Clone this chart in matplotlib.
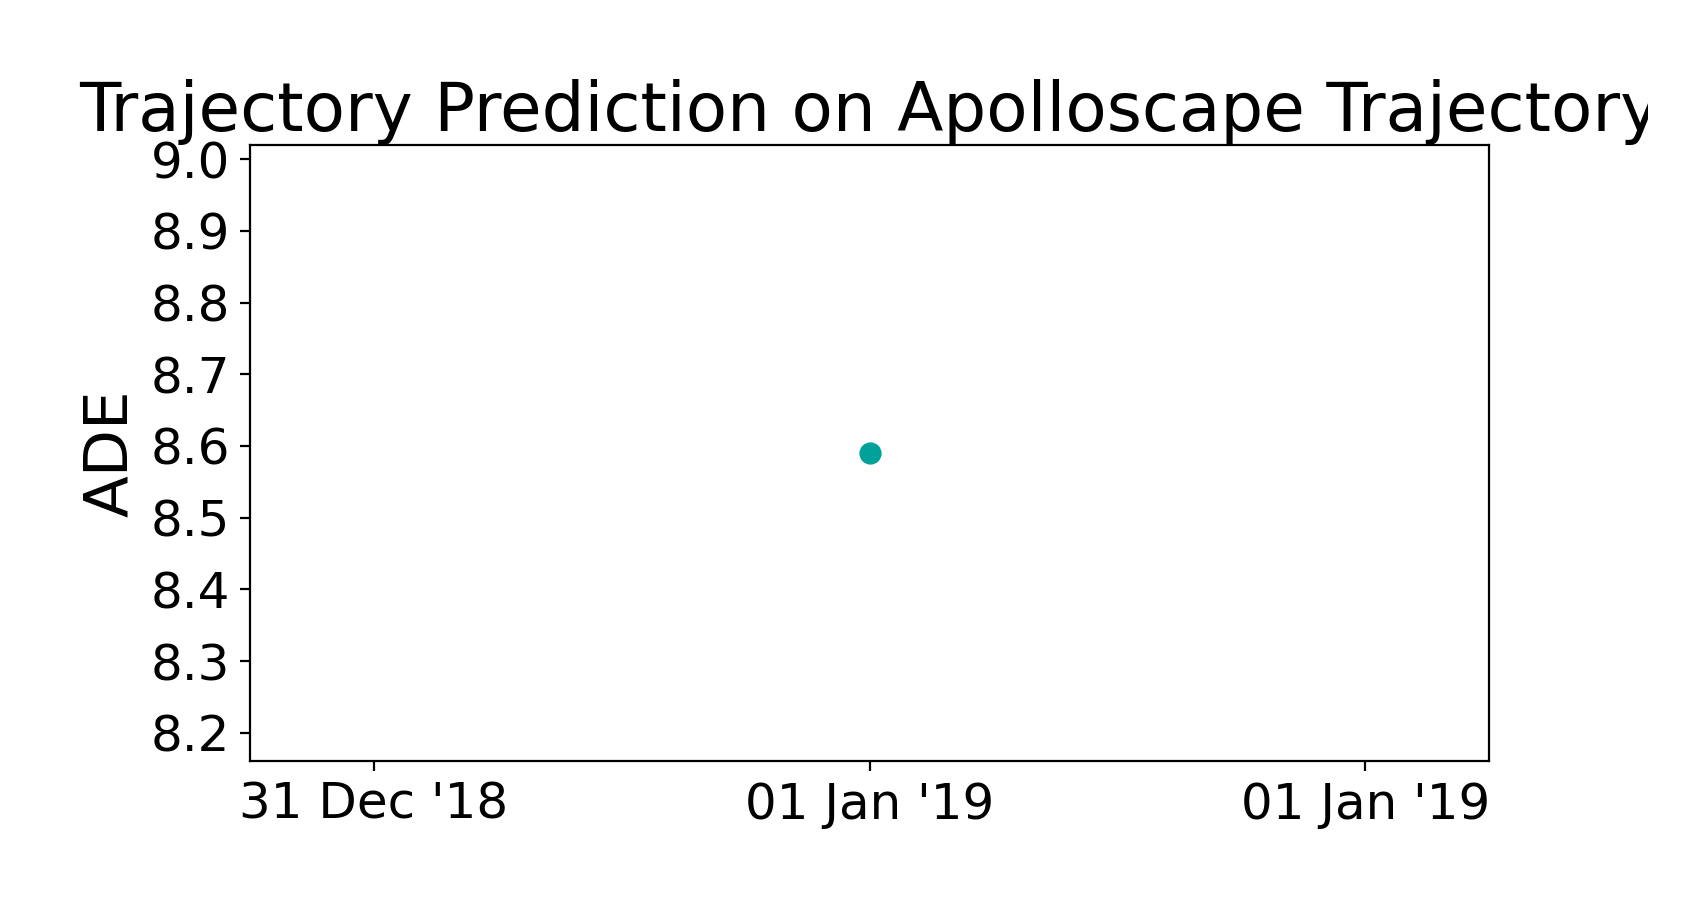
import datetime as dt
import matplotlib
matplotlib.use("Agg")
from matplotlib import pyplot as plt
import matplotlib.dates as mdates
from matplotlib.ticker import MultipleLocator
from matplotlib.transforms import Bbox, TransformedBbox

# data: one ADE result
dates = [dt.datetime(2019, 1, 1)]
ade = [8.59]

fig = plt.figure(figsize=(8.5, 4.5), dpi=200)
ax = fig.add_axes([0.147, 0.154, 0.729, 0.685])

ax.plot(dates, ade, 'o', color='#00A19A', markersize=7)

ax.set_xlim(dates[0] - dt.timedelta(hours=15), dates[0] + dt.timedelta(hours=15))
ax.set_ylim(8.16, 9.02)
ax.xaxis.set_major_locator(mdates.HourLocator(byhour=[0, 12]))
ax.xaxis.set_major_formatter(mdates.DateFormatter("%d %b '%y"))
ax.yaxis.set_major_locator(MultipleLocator(0.1))
ax.tick_params(labelsize=18)

ax.set_ylabel('ADE', fontsize=22)
title = ax.set_title('Trajectory Prediction on Apolloscape Trajectory', fontsize=24.3, pad=4.5)
# the original picture cuts the title off at the right
title.set_clip_box(TransformedBbox(Bbox([[0, 0], [1648 / 1700, 1]]), fig.transFigure))
title.set_clip_on(True)

fig.savefig('out.png', dpi=200)
